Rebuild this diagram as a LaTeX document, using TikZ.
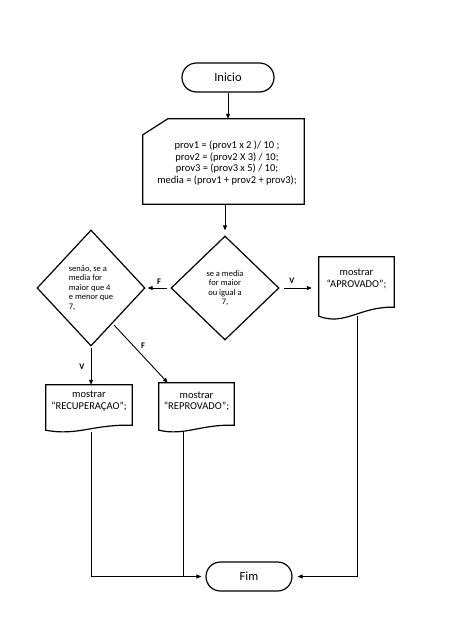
\documentclass[tikz,border=0pt]{standalone}
\usepackage{fontspec}
\setmainfont{Carlito}
\usetikzlibrary{shapes.geometric,arrows.meta,calc}
\newcommand\docoutline[2]{%
  \draw[shapeline] (#1.north west) -- (#1.north east) -- ($(#1.south east)+(0,-#2)$)
    .. controls ($(#1.south)+(3.5,-#2-1)$) and ($(#1.south)+(-11.5,#2+1)$) .. (#1.south west) -- cycle;}
\begin{document}
\begin{tikzpicture}[x=1pt,y=-1pt,
  shapeline/.style={draw=black,line width=1.2pt},
  term/.style={shapeline,rounded corners=14.5pt,minimum width=#1,minimum height=29pt,inner sep=0pt,font=\fontsize{12.5}{14}\selectfont},
  conn/.style={draw=black,line width=0.9pt},
  arr/.style={conn,-{Triangle[length=5pt,width=4pt]}},
  lbl/.style={font=\fontsize{8.5}{9}\selectfont\bfseries,inner sep=0pt},
  dec/.style={shapeline,diamond,inner sep=0pt,font=\fontsize{8.5}{9.5}\selectfont},
  holder/.style={draw=none,inner sep=0pt,minimum width=#1},
  boxtext/.style={align=center,inner sep=0pt,font=\fontsize{10.5}{11.5}\selectfont}
]
\fill[white] (0,0) rectangle (452,640);
\useasboundingbox (0,0) rectangle (452,640);

% terminals
\node[term=92pt] (inicio) at (228,77.5) {Inicio};
\node[term=86pt] (fim) at (249,576.5) {Fim};

% process (manual input)
\node[holder=161pt,minimum height=85pt] (proc) at (223.5,161.5) {};
\draw[shapeline] ($(proc.north west)+(0,16)$) -- ($(proc.north west)+(25,0)$) -- (proc.north east) -- (proc.south east) -- (proc.south west) -- cycle;
\node[boxtext] (proctxt) at (227,163) {prov1 = (prov1 x 2 )/ 10 ;\\prov2 = (prov2 X 3) / 10;\\prov3 = (prov3 x 5) / 10;\\media = (prov1 + prov2 + prov3);};

% decisions
\node[dec,minimum width=108pt,minimum height=104pt,align=center] (dec1) at (225,288) {se a media\\for maior\\ou igual a\\7,};
\node[dec,minimum width=108pt,minimum height=116pt,align=left] (dec2) at (91,288) {senão, se a\\media for\\maior que 4\\e menor que\\7,};

% documents
\node[holder=75pt,minimum height=59pt] (aprov) at (356.5,286.5) {};
\docoutline{aprov}{9}
\node[boxtext] (aprovtxt) at (356.5,279) {mostrar\\“APROVADO”;};

\node[holder=86pt,minimum height=45pt] (recup) at (89,407.5) {};
\docoutline{recup}{5}
\node[boxtext] (recuptxt) at (89,401) {mostrar\\“RECUPERAÇAO”;};

\node[holder=75pt,minimum height=47pt] (reprov) at (196.5,406.5) {};
\docoutline{reprov}{5}
\node[boxtext] (reprovtxt) at (196.5,401.5) {mostrar\\“REPROVADO”;};

% connectors
\draw[arr] (inicio.south) -- (inicio.south |- proc.north);
\draw[arr,shorten >=5pt] (proc.south -| dec1.north) -- (dec1.north);
\draw[arr,shorten <=4pt,shorten >=7pt] (dec1.east) -- (dec1.east -| aprov.west);
\node[lbl] (lv1) at (292,281) {V};
\draw[arr,shorten <=3pt,shorten >=2pt] (dec1.west) -- (dec2.east);
\node[lbl] (lf1) at (159,282) {F};
\draw[arr,shorten <=1pt] (dec2.south) -- (dec2.south |- recup.north);
\node[lbl] (lv2) at (82,367) {V};
\coordinate (d2f) at (114,325);
\coordinate (repin) at ($(reprov.north west)+(9,0)$);
\draw[arr] (d2f) -- (repin);
\node[lbl] (lf2) at (143,346) {F};

\coordinate (recupout) at (91,432);
\coordinate (reprovout) at (183,431);
\coordinate (aprovout) at (357,316);
\draw[arr,shorten >=4pt] (recupout) |- (fim.west);
\draw[conn] (reprovout) -- (reprovout |- fim.west);
\draw[arr,shorten >=5pt] (aprovout) |- (fim.east);
\end{tikzpicture}
\end{document}
